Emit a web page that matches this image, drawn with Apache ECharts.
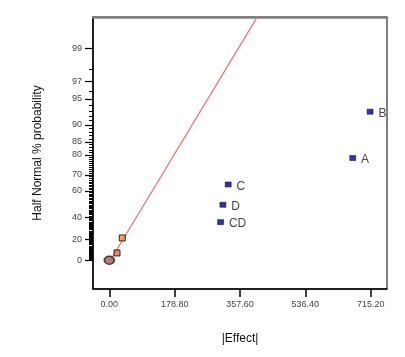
<!DOCTYPE html>
<html>
<head>
<meta charset="utf-8">
<script src="https://cdn.jsdelivr.net/npm/echarts@6/dist/echarts.min.js"></script>
<style>
  html, body { margin: 0; padding: 0; background: #fff; }
  #chart { width: 405px; height: 357px; }
</style>
</head>
<body>
<div id="chart"></div>
<script>
// effects (|Effect|) and their half normal % probability
var effectNames = ['B', 'A', 'C', 'D', 'CD'];
var effectSize = [713.6, 666.2, 325.3, 310.8, 304.5];
var effectProb = [92.9, 78.6, 64.3, 50.0, 35.7];

// small effects (orange) and the error point at the origin
var smallEffect = [35.5, 21.0];
var smallProb = [21.4, 7.1];
var errEffect = [0];
var errProb = [0];

// fitted line through the small effects
var fitEffect = [3, 405];
var fitProb = [0, 99.69];

var xTicks = [0, 178.8, 357.6, 536.4, 715.2];
var yTickLabels = [0, 20, 40, 60, 70, 80, 85, 90, 95, 97, 99];
var yMinor = [];
for (var k = 1; k <= 98; k++) yMinor.push(k);

// inverse normal cdf (Acklam), used for the half normal probability scale
function invNorm(p) {
    var a = [-3.969683028665376e+01, 2.209460984245205e+02, -2.759285104469687e+02, 1.383577518672690e+02, -3.066479806614716e+01, 2.506628277459239e+00];
    var b = [-5.447609879822406e+01, 1.615858368580409e+02, -1.556989798598866e+02, 6.680131188771972e+01, -1.328068155288572e+01];
    var c = [-7.784894002430293e-03, -3.223964580411365e-01, -2.400758277161838e+00, -2.549732539343734e+00, 4.374664141464968e+00, 2.938163982698783e+00];
    var d = [7.784695709041462e-03, 3.224671290700398e-01, 2.445134137142996e+00, 3.754408661907416e+00];
    var pl = 0.02425, q, r;
    if (p < pl) {
        q = Math.sqrt(-2 * Math.log(p));
        return (((((c[0]*q+c[1])*q+c[2])*q+c[3])*q+c[4])*q+c[5]) / ((((d[0]*q+d[1])*q+d[2])*q+d[3])*q+1);
    } else if (p <= 1 - pl) {
        q = p - 0.5; r = q * q;
        return (((((a[0]*r+a[1])*r+a[2])*r+a[3])*r+a[4])*r+a[5])*q / (((((b[0]*r+b[1])*r+b[2])*r+b[3])*r+b[4])*r+1);
    }
    q = Math.sqrt(-2 * Math.log(1 - p));
    return -(((((c[0]*q+c[1])*q+c[2])*q+c[3])*q+c[4])*q+c[5]) / ((((d[0]*q+d[1])*q+d[2])*q+d[3])*q+1);
}
// half normal % -> scale position
function hn(pct) {
    if (pct <= 0) return 0;
    return invNorm(0.5 + pct / 200);
}

var yMajorZ = yTickLabels.map(hn);
var yMinorZ = yMinor.map(hn);
var yMin = -0.349, yMax = 2.956;

function pairs(xs, ps) {
    return xs.map(function (x, i) { return [x, hn(ps[i])]; });
}
function yLabel(v) {
    var best = 0;
    for (var i = 1; i < yMajorZ.length; i++) {
        if (Math.abs(yMajorZ[i] - v) < Math.abs(yMajorZ[best] - v)) best = i;
    }
    return String(yTickLabels[best]);
}

var font = 'Arial, "Liberation Sans", sans-serif';
var chart = echarts.init(document.getElementById('chart'));
chart.setOption({
    animation: false,
    backgroundColor: '#fff',
    grid: { left: 93, right: 18, top: 17, bottom: 68, show: true, borderColor: '#000', borderWidth: 1 },
    xAxis: [{
        type: 'value', min: -44.7, max: 759.9,
        name: '|Effect|', nameLocation: 'middle', nameGap: 44,
        nameTextStyle: { fontFamily: font, fontSize: 12, color: '#111' },
        axisLine: { show: true, onZero: false, lineStyle: { color: '#000', width: 1.5 } },
        axisTick: { show: true, customValues: xTicks, length: 8, lineStyle: { color: '#000', width: 1.5 } },
        axisLabel: { customValues: xTicks, margin: 11, fontFamily: font, fontSize: 9, color: '#444',
            formatter: function (v) { return v.toFixed(2); } },
        splitLine: { show: false }
    }, {
        type: 'value', position: 'top', min: -44.7, max: 759.9,
        axisLine: { show: true, onZero: false, lineStyle: { color: '#808080', width: 2.5 } },
        axisTick: { show: false }, axisLabel: { show: false }, splitLine: { show: false }
    }],
    yAxis: [{
        type: 'value', min: yMin, max: yMax,
        name: 'Half Normal % probability', nameLocation: 'middle', nameGap: 49,
        nameTextStyle: { fontFamily: font, fontSize: 12, color: '#111' },
        axisLine: { show: true, onZero: false, lineStyle: { color: '#000', width: 1.5 } },
        axisTick: { show: true, customValues: yMajorZ, length: 8, lineStyle: { color: '#000', width: 1.2 } },
        axisLabel: { customValues: yMajorZ, margin: 11, fontFamily: font, fontSize: 9, color: '#444',
            formatter: yLabel },
        splitLine: { show: false }
    }, {
        type: 'value', position: 'left', min: yMin, max: yMax,
        axisLine: { show: false, onZero: false },
        axisTick: { show: true, customValues: yMinorZ, length: 4, lineStyle: { color: '#000', width: 1 } },
        axisLabel: { show: false }, splitLine: { show: false }
    }],
    series: [{
        type: 'line',
        data: pairs(fitEffect, fitProb),
        symbol: 'none',
        lineStyle: { color: '#e87878', width: 1.3 },
        z: 1
    }, {
        type: 'scatter',
        data: pairs(errEffect, errProb),
        symbol: 'circle', symbolSize: [10, 8],
        itemStyle: { color: '#a0606c', borderColor: '#2a1010', borderWidth: 1.5 },
        z: 3
    }, {
        type: 'scatter',
        data: pairs(smallEffect, smallProb).map(function (d, i) {
            return { value: d, itemStyle: { color: i === 0 ? '#e8963c' : '#e0703c' } };
        }),
        symbol: 'rect', symbolSize: 6,
        itemStyle: { borderColor: '#000', borderWidth: 1 },
        z: 3
    }, {
        type: 'scatter',
        data: pairs(effectSize, effectProb).map(function (d, i) {
            return { value: d, name: effectNames[i] };
        }),
        symbol: 'rect', symbolSize: [6, 5],
        itemStyle: { color: '#0000a0', borderColor: '#000', borderWidth: 0.6 },
        label: { show: true, position: 'right', distance: 5, offset: [0, 2],
            fontFamily: font, fontSize: 12, color: '#111',
            formatter: function (p) { return p.name; } },
        z: 3
    }]
});
</script>
</body>
</html>
